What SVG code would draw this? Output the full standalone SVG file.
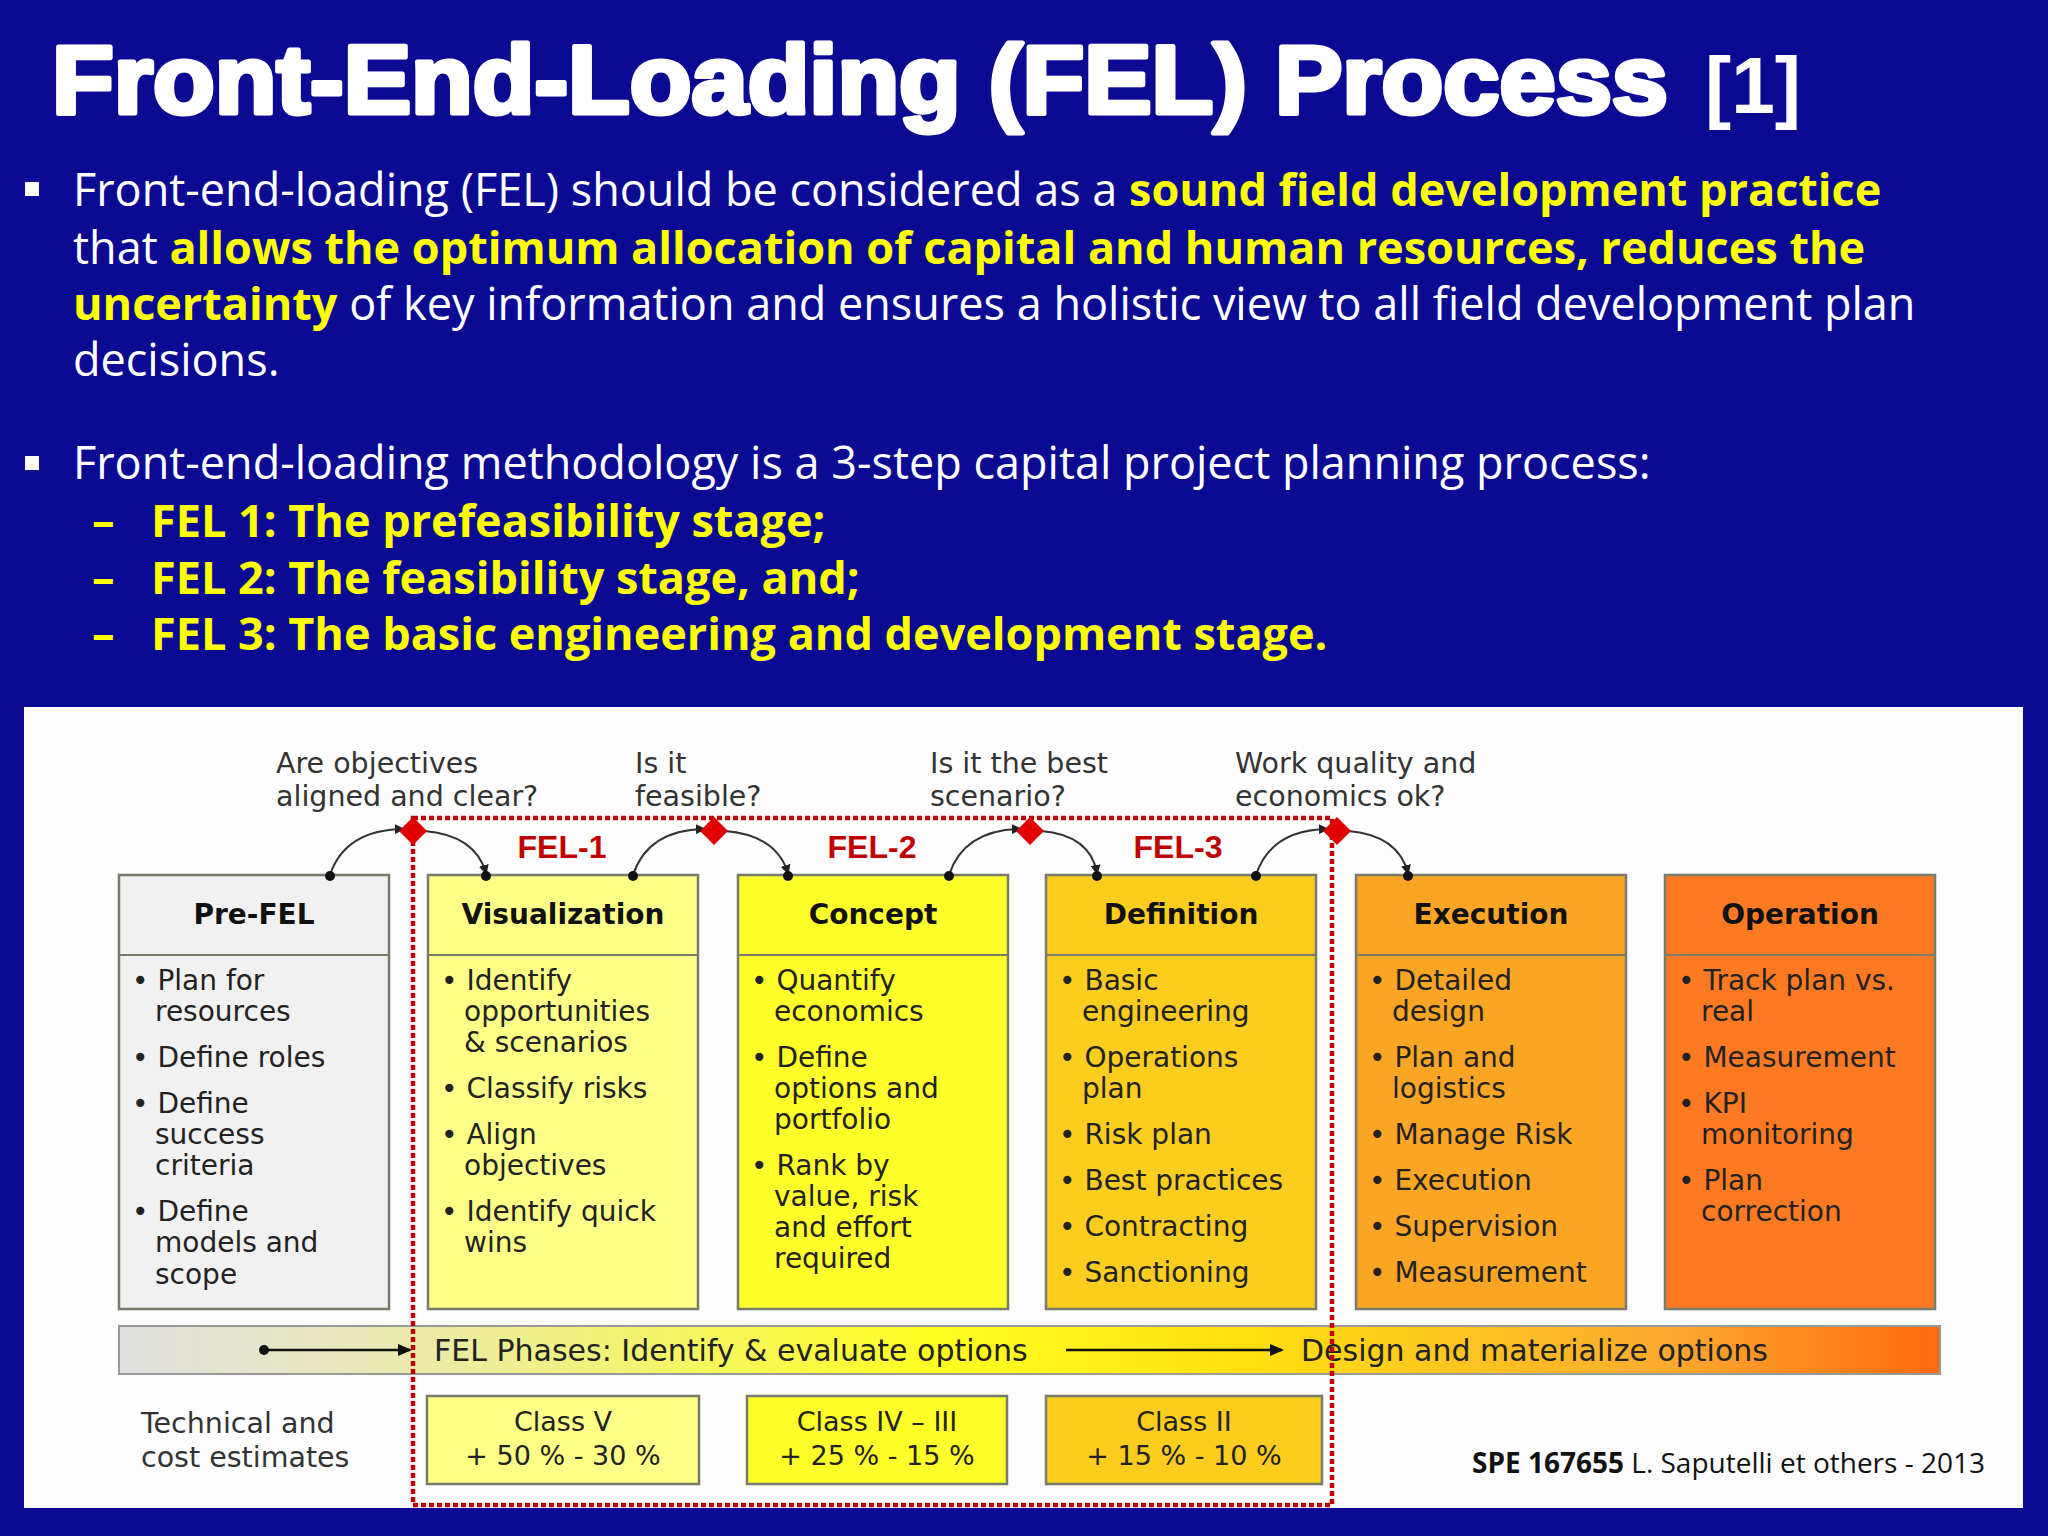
<svg xmlns="http://www.w3.org/2000/svg" width="2048" height="1536" viewBox="0 0 2048 1536">
<defs>
<style>
.ttl{font-family:"Liberation Sans",Arial,sans-serif;font-weight:bold;fill:#fff}
.b{font-family:"Open Sans","Liberation Sans",sans-serif;font-size:45px;fill:#fff}
.y{fill:#ffff00;font-weight:bold}
.hd{font-family:"DejaVu Sans",Verdana,sans-serif;font-weight:bold;font-size:28px;fill:#111;text-anchor:middle}
.it{font-family:"DejaVu Sans",Verdana,sans-serif;font-size:28px;fill:#222}
.q{font-family:"DejaVu Sans",Verdana,sans-serif;font-size:28.5px;fill:#333}
.ph{font-family:"DejaVu Sans",Verdana,sans-serif;font-size:30px;fill:#222}
.fel{font-family:"Liberation Sans",Arial,sans-serif;font-weight:bold;font-size:32px;fill:#c00000;text-anchor:middle}
.box{stroke:#7a7a6a;stroke-width:2.5}
.cls{font-family:"DejaVu Sans",Verdana,sans-serif;font-size:27px;fill:#222;text-anchor:middle}
.arc{fill:none;stroke:#333;stroke-width:2}
</style>
<marker id="ah" markerWidth="10" markerHeight="10" refX="8" refY="5" orient="auto" markerUnits="userSpaceOnUse"><path d="M0,0 L10,5 L0,10 z" fill="#222"/></marker>
<marker id="ah2" markerWidth="14" markerHeight="14" refX="12" refY="7" orient="auto" markerUnits="userSpaceOnUse"><path d="M0,1 L14,7 L0,13 z" fill="#111"/></marker>
<linearGradient id="bar" x1="0" x2="1" y1="0" y2="0">
<stop offset="0" stop-color="#e0e0e0"/><stop offset="0.12" stop-color="#e8e8c0"/><stop offset="0.45" stop-color="#ffff20"/><stop offset="0.62" stop-color="#ffe010"/><stop offset="0.85" stop-color="#fcaa30"/><stop offset="1" stop-color="#ff6a10"/>
</linearGradient>
</defs>
<rect width="2048" height="1536" fill="#0a0a92"/>
<text class="ttl" x="52" y="113" font-size="96" stroke="#fff" stroke-width="5" stroke-linejoin="round" textLength="1616" lengthAdjust="spacingAndGlyphs">Front-End-Loading (FEL) Process</text>
<text class="ttl" x="1705" y="113" font-size="80" textLength="96" lengthAdjust="spacingAndGlyphs">[1]</text>

<rect x="25" y="182" width="14" height="14" fill="#fff"/>
<text class="b" x="73" y="206">Front-end-loading (FEL) should be considered as a <tspan class="y">sound field development practice</tspan></text>
<text class="b" x="73" y="264">that <tspan class="y">allows the optimum allocation of capital and human resources, reduces the</tspan></text>
<text class="b" x="73" y="320"><tspan class="y">uncertainty</tspan> of key information and ensures a holistic view to all field development plan</text>
<text class="b" x="73" y="376">decisions.</text>
<rect x="25" y="456" width="14" height="14" fill="#fff"/>
<text class="b" x="73" y="479">Front-end-loading methodology is a 3-step capital project planning process:</text>
<text class="b y" x="92" y="537">–</text><text class="b y" x="151" y="537">FEL 1:  The prefeasibility stage;</text>
<text class="b y" x="92" y="594">–</text><text class="b y" x="151" y="594">FEL 2:  The feasibility stage, and;</text>
<text class="b y" x="92" y="650">–</text><text class="b y" x="151" y="650">FEL 3:  The basic engineering and development stage.</text>

<rect x="24" y="707" width="1999" height="801" fill="#fdfdfd"/>

<g id="questions">
<text class="q" x="276" y="773">Are objectives</text><text class="q" x="276" y="806">aligned and clear?</text>
<text class="q" x="635" y="773">Is it</text><text class="q" x="635" y="806">feasible?</text>
<text class="q" x="930" y="773">Is it the best</text><text class="q" x="930" y="806">scenario?</text>
<text class="q" x="1235" y="773">Work quality and</text><text class="q" x="1235" y="806">economics ok?</text>
</g>

<g id="pre-fel">
<rect class="box" x="119" y="875" width="270" height="434" fill="#f1f1f1"/>
<line x1="119" y1="955" x2="389" y2="955" stroke="#7a7a6a" stroke-width="2"/>
<text class="hd" x="254" y="924">Pre-FEL</text>
<g class="it"><text x="132" y="990">• Plan for</text><text x="155" y="1021">resources</text><text x="132" y="1067">• Define roles</text><text x="132" y="1113">• Define</text><text x="155" y="1144">success</text><text x="155" y="1175">criteria</text><text x="132" y="1221">• Define</text><text x="155" y="1252">models and</text><text x="155" y="1284">scope</text></g>
</g>
<g id="visualization">
<rect class="box" x="428" y="875" width="270" height="434" fill="#ffff88"/>
<line x1="428" y1="955" x2="698" y2="955" stroke="#7a7a6a" stroke-width="2"/>
<text class="hd" x="563" y="924">Visualization</text>
<g class="it"><text x="441" y="990">• Identify</text><text x="464" y="1021">opportunities</text><text x="464" y="1052">&amp; scenarios</text><text x="441" y="1098">• Classify risks</text><text x="441" y="1144">• Align</text><text x="464" y="1175">objectives</text><text x="441" y="1221">• Identify quick</text><text x="464" y="1252">wins</text></g>
</g>
<g id="concept">
<rect class="box" x="738" y="875" width="270" height="434" fill="#ffff2a"/>
<line x1="738" y1="955" x2="1008" y2="955" stroke="#7a7a6a" stroke-width="2"/>
<text class="hd" x="873" y="924">Concept</text>
<g class="it"><text x="751" y="990">• Quantify</text><text x="774" y="1021">economics</text><text x="751" y="1067">• Define</text><text x="774" y="1098">options and</text><text x="774" y="1129">portfolio</text><text x="751" y="1175">• Rank by</text><text x="774" y="1206">value, risk</text><text x="774" y="1237">and effort</text><text x="774" y="1268">required</text></g>
</g>
<g id="definition">
<rect class="box" x="1046" y="875" width="270" height="434" fill="#fbcd1e"/>
<line x1="1046" y1="955" x2="1316" y2="955" stroke="#7a7a6a" stroke-width="2"/>
<text class="hd" x="1181" y="924">Definition</text>
<g class="it"><text x="1059" y="990">• Basic</text><text x="1082" y="1021">engineering</text><text x="1059" y="1067">• Operations</text><text x="1082" y="1098">plan</text><text x="1059" y="1144">• Risk plan</text><text x="1059" y="1190">• Best practices</text><text x="1059" y="1236">• Contracting</text><text x="1059" y="1282">• Sanctioning</text></g>
</g>
<g id="execution">
<rect class="box" x="1356" y="875" width="270" height="434" fill="#fba524"/>
<line x1="1356" y1="955" x2="1626" y2="955" stroke="#7a7a6a" stroke-width="2"/>
<text class="hd" x="1491" y="924">Execution</text>
<g class="it"><text x="1369" y="990">• Detailed</text><text x="1392" y="1021">design</text><text x="1369" y="1067">• Plan and</text><text x="1392" y="1098">logistics</text><text x="1369" y="1144">• Manage Risk</text><text x="1369" y="1190">• Execution</text><text x="1369" y="1236">• Supervision</text><text x="1369" y="1282">• Measurement</text></g>
</g>
<g id="operation">
<rect class="box" x="1665" y="875" width="270" height="434" fill="#fd7a22"/>
<line x1="1665" y1="955" x2="1935" y2="955" stroke="#7a7a6a" stroke-width="2"/>
<text class="hd" x="1800" y="924">Operation</text>
<g class="it"><text x="1678" y="990">• Track plan vs.</text><text x="1701" y="1021">real</text><text x="1678" y="1067">• Measurement</text><text x="1678" y="1113">• KPI</text><text x="1701" y="1144">monitoring</text><text x="1678" y="1190">• Plan</text><text x="1701" y="1221">correction</text></g>
</g>

<g id="phase-bar">
<rect x="119" y="1326" width="1821" height="48" fill="url(#bar)" stroke="#999" stroke-width="2"/>
<circle cx="264" cy="1350" r="5" fill="#111"/>
<line x1="264" y1="1350" x2="410" y2="1350" stroke="#111" stroke-width="2.5" marker-end="url(#ah2)"/>
<text class="ph" x="434" y="1361">FEL Phases: Identify &amp; evaluate options</text>
<line x1="1066" y1="1350" x2="1282" y2="1350" stroke="#111" stroke-width="2.5" marker-end="url(#ah2)"/>
<text class="ph" x="1301" y="1361">Design and materialize options</text>
</g>

<g id="estimates">
<text class="q" x="141" y="1433">Technical and</text><text class="q" x="141" y="1467">cost estimates</text>
<rect class="box" x="427" y="1396" width="272" height="88" fill="#ffff88"/>
<text class="cls" x="563" y="1431">Class V</text><text class="cls" x="563" y="1465">+ 50 % - 30 %</text>
<rect class="box" x="747" y="1396" width="260" height="88" fill="#ffff2a"/>
<text class="cls" x="877" y="1431">Class IV – III</text><text class="cls" x="877" y="1465">+ 25 % - 15 %</text>
<rect class="box" x="1046" y="1396" width="276" height="88" fill="#fbcd1e"/>
<text class="cls" x="1184" y="1431">Class II</text><text class="cls" x="1184" y="1465">+ 15 % - 10 %</text>
</g>

<text x="1985" y="1473" text-anchor="end" font-family="Open Sans,Liberation Sans,sans-serif" font-size="28" fill="#111"><tspan font-weight="bold">SPE 167655</tspan>  L. Saputelli et others - 2013</text>

<rect x="413" y="818" width="919" height="687" fill="none" stroke="#c00000" stroke-width="4.5" stroke-dasharray="5 3"/>

<g id="fel-labels">
<text class="fel" x="562" y="858">FEL-1</text>
<text class="fel" x="872" y="858">FEL-2</text>
<text class="fel" x="1178" y="858">FEL-3</text>
</g>

<g id="connectors">
<path class="arc" d="M330,875 Q345,830 403,829" marker-end="url(#ah)"/>
<path class="arc" d="M424,831 Q475,835 486,873" marker-end="url(#ah)"/>
<path class="arc" d="M633,875 Q648,830 704,829" marker-end="url(#ah)"/>
<path class="arc" d="M725,831 Q776,835 788,873" marker-end="url(#ah)"/>
<path class="arc" d="M949,875 Q964,830 1020,829" marker-end="url(#ah)"/>
<path class="arc" d="M1041,831 Q1090,835 1097,873" marker-end="url(#ah)"/>
<path class="arc" d="M1256,875 Q1271,830 1327,829" marker-end="url(#ah)"/>
<path class="arc" d="M1348,831 Q1398,835 1408,873" marker-end="url(#ah)"/>
<g fill="#111"><circle cx="330" cy="876" r="5"/><circle cx="486" cy="876" r="5"/><circle cx="633" cy="876" r="5"/><circle cx="788" cy="876" r="5"/><circle cx="949" cy="876" r="5"/><circle cx="1097" cy="876" r="5"/><circle cx="1256" cy="876" r="5"/><circle cx="1408" cy="876" r="5"/></g>
<g fill="#e00000"><path d="M413,817 L427,831 L413,845 L399,831z"/><path d="M714,817 L728,831 L714,845 L700,831z"/><path d="M1030,817 L1044,831 L1030,845 L1016,831z"/><path d="M1337,817 L1351,831 L1337,845 L1323,831z"/></g>
</g>
</svg>
